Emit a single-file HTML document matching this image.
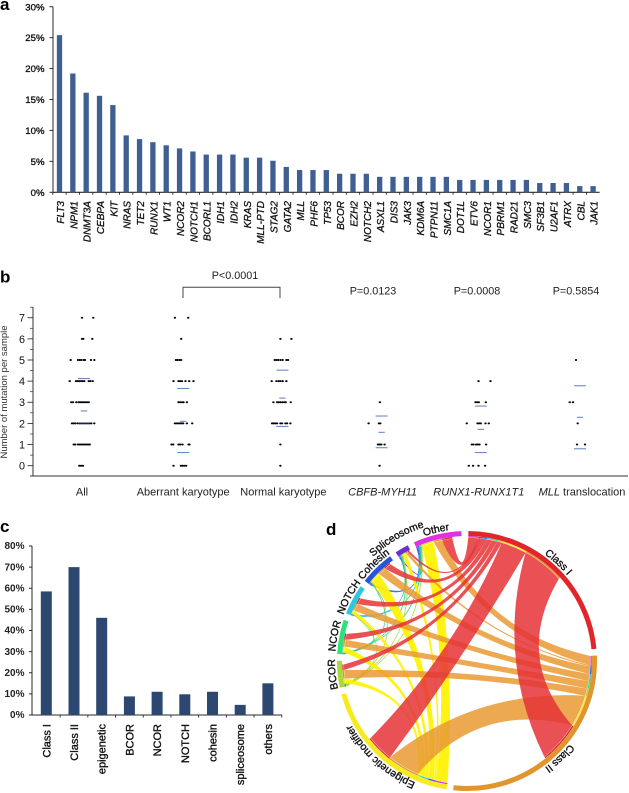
<!DOCTYPE html>
<html lang="en">
<head>
<meta charset="utf-8">
<title>Mutation frequency figure</title>
<style>
html,body{margin:0;padding:0;background:#fff;}
svg{display:block;filter:blur(0.3px);font-family:"Liberation Sans",sans-serif;}
</style>
</head>
<body>
<svg id="figure" xmlns="http://www.w3.org/2000/svg" width="629" height="793" viewBox="0 0 629 793">
  <rect width="629" height="793" fill="#fff"/>
  <g id="panelA"></g>
  <g id="panelB"></g>
  <g id="panelC"></g>
  <g id="panelD"></g>
</svg>
<script>
/* ---------- Panel a data ---------- */
const geneNames = ["FLT3","NPM1","DNMT3A","CEBPA","KIT","NRAS","TET2","RUNX1","WT1","NCOR2","NOTCH1","BCORL1","IDH1","IDH2","KRAS","MLL-PTD","STAG2","GATA2","MLL","PHF6","TP53","BCOR","EZH2","NOTCH2","ASXL1","DIS3","JAK3","KDM6A","PTPN11","SMC1A","DOT1L","ETV6","NCOR1","PBRM1","RAD21","SMC3","SF3B1","U2AF1","ATRX","CBL","JAK1"];
const geneFrequency = [25.4,19.2,16.1,15.6,14.1,9.2,8.6,8.1,7.6,7.1,6.6,6.1,6.1,6.1,5.6,5.6,5.1,4.1,3.6,3.6,3.6,3.0,3.0,3.0,2.5,2.5,2.5,2.5,2.5,2.5,2.0,2.0,2.0,2.0,2.0,2.0,1.5,1.5,1.5,1.0,1.0];
const geneAxisTicks = [0,5,10,15,20,25,30];

/* ---------- Panel b data ---------- */
const scatterGroups = ["All","Aberrant karyotype","Normal karyotype","CBFB-MYH11","RUNX1-RUNX1T1","MLL translocation"];
const scatterTicks = [0,1,2,3,4,5,6,7];
const countsAll = [7,7,6,6,6,5,5,5,5,5,5,5,5,4,4,4,4,4,4,4,4,4,4,3,3,3,3,3,3,3,3,3,3,2,2,2,2,2,2,2,2,2,2,2,2,2,1,1,1,1,1,1,1,1,1,1,0,0,0];
const jitterAll = [0,11.3,0,1.3,10.3,-11.3,-4,-2.3,-0.7,1.7,3,9,12.3,-12.3,-6,-4.3,-2.7,-1,0.7,2.3,6.7,8.3,10.7,-10.7,-9,-5.7,-3.3,-1.7,0,1.7,3.3,5,6.7,-10,-8.3,-6.7,-4.3,-2.3,-0.7,1,2.7,4.3,6,7.7,9.3,12.3,-8.3,-6.7,-4,-2.3,-0.7,1,2.7,4.3,6,7.7,-2.7,-1,1];
const countsAberrant = [7,7,6,5,5,5,5,4,4,4,4,4,4,4,3,3,3,3,3,2,2,2,2,2,2,2,2,1,1,1,1,1,1,1,0,0,0,0,0];
const jitterAberrant = [-6.3,7,0,-5.3,-3.7,-1.7,0,-7.7,-2.7,-1,0.7,4.3,8,12.3,-2.7,-1,0.7,2.3,5.7,-6.3,-4.7,-3,-1.3,0.3,2,5.7,11,-9.7,-8,-2.7,-1,1.3,7.3,8.3,-7.7,-0.3,1.3,3,5];
const countsNormal = [6,6,5,5,5,5,5,5,5,4,4,4,4,4,4,3,3,3,3,3,3,3,3,2,2,2,2,2,2,2,2,2,1,0];
const jitterNormal = [0,11,-5.7,-4,-2.3,0,2.3,6,7.7,-8.7,-4,-1.7,0,2.3,6,-7,-3.3,-1.7,0,2,3.7,5.3,10.3,-8.3,-6.7,-5,-3.3,0,1.7,5,6.7,10,0,0];
const countsCbfb = [3,2,2,2,1,1,1,1,0];
const jitterCbfb = [0.3,-11,-0.7,0.7,-1.7,0,1.7,5,0];
const countsRunx = [4,4,3,3,3,3,2,2,2,2,2,2,1,1,1,1,1,1,0,0,0,0];
const jitterRunx = [-0.3,11.7,-3.3,-1.7,0,7,-12,-1.3,0.3,2,6.7,10,-7,-5.3,-2.7,-1,0.7,7.3,-10,-5.7,-0.3,6.3];
const countsMll = [5,3,3,2,1,1];
const jitterMll = [-2,-8.3,-5,-0.3,-1,7];
const upperQuartiles = [4.12,3.65,4.52,2.35,2.82,3.78];
const medians = [2.59,2.1,3.2,1.58,1.72,2.29];
const lowerQuartiles = [2.03,0.62,1.86,0.85,0.62,0.8];
const pValues = ["P<0.0001","P=0.0123","P=0.0008","P=0.5854"];

/* ---------- Panel c data ---------- */
const pathwayNames = ["Class I","Class II","epigenetic","BCOR","NCOR","NOTCH","cohesin","spliceosome","others"];
const pathwayFrequency = [58.5,70,46,8.8,11,9.8,11,4.8,15];
const pathwayAxisTicks = [0,10,20,30,40,50,60,70,80];

/* ---------- Panel d data ---------- */
const chordSectors = ["Class I","Class II","Epigenetic modifier","BCOR","NCOR","NOTCH","Cohesin","Spliceosome","Other"];
const sectorSizes = [84,98.5,66,12,15.4,13.6,15.6,6.2,21.6];
const flowClassI = [0,19.8,12,2.2,2.5,2.5,3,0.8,4.8];
const flowClassII = [19.6,0,15.1,3.5,3.5,3.3,3.5,0.6,4.4];
const flowEpigenetic = [12.8,15.1,0,1.6,1.9,1.8,2.7,0.8,5.6];
const flowBcor = [2.6,4,2.2,0,0.2,0.3,0.4,0.3,0.3];
const flowNcor = [2.8,3.2,2.6,0.2,0,0.2,0.2,0.2,0.2];
const flowNotch = [3,3.4,1.6,0.2,0.2,0,0.2,0.2,0.2];
const flowCohesin = [3.2,3.8,5,0.2,0.2,0.2,0,0.4,0.6];
const flowSpliceosome = [0.8,1.2,1.6,0.4,0.4,0.4,0.5,0,0.4];
const flowOther = [4.8,4,5.8,0.3,0.5,0.6,0.8,0.5,0];

const SVG_NS = "http://www.w3.org/2000/svg";
function make(parent, tag, attrs, text) {
  const el = document.createElementNS(SVG_NS, tag);
  for (const k in attrs) el.setAttribute(k, attrs[k]);
  if (text !== undefined) el.textContent = text;
  parent.appendChild(el);
  return el;
}
function slug(s) { return String(s).toLowerCase().replace(/[^a-z0-9]+/g, "-").replace(/^-|-$/g, ""); }
const INK = "#2a2a2a";
const fig = document.getElementById("figure");

/* ---------- Panel letters ---------- */
[["a",0,10],["b",0,282.5],["c",0,532],["d",326,535]].forEach(function (p) {
  const el = make(fig, "text", {x:p[1], y:p[2], "font-size":17, "font-weight":"bold", fill:"#000"}, p[0]);
  
  
});

/* ---------- Panel a ---------- */
(function () {
  const g = document.getElementById("panelA");
  const xA = function (i) { return 59.5 + i * 13.34; };
  const yA = function (v) { return 192.3 - v * (185.6 / 30); };
  const yAxis = make(g, "line", {x1:53, x2:53, y1:yA(30), y2:yA(0), stroke:INK, "stroke-width":1});
  
  
  const xAxis = make(g, "line", {x1:53, x2:xA(geneNames.length - 1) + 6.5, y1:yA(0), y2:yA(0), stroke:INK, "stroke-width":1.1});
  
  
  geneAxisTicks.forEach(function (t) {
    const tick = make(g, "line", {x1:49.5, x2:53, y1:yA(t), y2:yA(t), stroke:INK, "stroke-width":1});
    
    
    const label = make(g, "text", {x:44.5, y:yA(t) + 3.6, "font-size":9.6, "text-anchor":"end", fill:"#111", stroke:"#111", "stroke-width":0.35}, t + "%");
    
    
  });
  geneNames.forEach(function (name, i) {
    const tick = make(g, "line", {x1:xA(i) - 6.67, x2:xA(i) - 6.67, y1:yA(0), y2:yA(0) + 2.5, stroke:INK, "stroke-width":0.9});
    
    
    const bar = make(g, "rect", {x:xA(i) - 2.65, y:yA(geneFrequency[i]), width:5.3, height:yA(0) - yA(geneFrequency[i]), fill:"#3f5f93"});
    
    
    const lx = xA(i) + 4.5;
    const label = make(g, "text", {x:lx, y:201, "font-size":10, "font-style":"italic", "text-anchor":"end", fill:"#111", stroke:"#111", "stroke-width":0.3, transform:"rotate(-90 " + lx + " 201)"}, name);
    
    
  });
})();

/* ---------- Panel b ---------- */
(function () {
  const g = document.getElementById("panelB");
  const xB = function (i) { return 82 + i * 99.2; };
  const yB = function (v) { return 465.7 - v * 21.14; };
  const axisStroke = "#333";
  const yAxis = make(g, "line", {x1:33, x2:33, y1:307, y2:476, stroke:axisStroke, "stroke-width":1});
  
  
  const xAxis = make(g, "line", {x1:30, x2:628, y1:476, y2:476, stroke:axisStroke, "stroke-width":1.1});
  
  
  scatterTicks.forEach(function (t) {
    const tick = make(g, "line", {x1:27.5, x2:33, y1:yB(t), y2:yB(t), stroke:axisStroke, "stroke-width":0.9});
    
    
    const minor = make(g, "line", {x1:30, x2:33, y1:yB(t + 0.5), y2:yB(t + 0.5), stroke:axisStroke, "stroke-width":0.7});
    
    
    const label = make(g, "text", {x:25, y:yB(t) + 3.9, "font-size":10.8, "text-anchor":"end", fill:"#111"}, t);
    
    
  });
  const title = make(g, "text", {x:7, y:392, "font-size":9.5, "text-anchor":"middle", fill:"#333", transform:"rotate(-90 7 392)"}, "Number of mutation per sample");
  
  

  const groupCounts = [countsAll,countsAberrant,countsNormal,countsCbfb,countsRunx,countsMll];
  const groupJitter = [jitterAll,jitterAberrant,jitterNormal,jitterCbfb,jitterRunx,jitterMll];
  groupCounts.forEach(function (counts, gi) {
    counts.forEach(function (c, k) {
      const dot = make(g, "ellipse", {cx:xB(gi) + groupJitter[gi][k], cy:yB(c), rx:1.2, ry:1, fill:"#000"});
      
      
    });
    [[upperQuartiles,6],[medians,3.2],[lowerQuartiles,6]].forEach(function (s) {
      const m = make(g, "line", {x1:xB(gi) + 2 - s[1], x2:xB(gi) + 2 + s[1], y1:yB(s[0][gi]), y2:yB(s[0][gi]), stroke:"#5b7fc0", "stroke-width":1});
      
      
    });
  });
  const labelNudge = [0,2,3,3,0,4];
  scatterGroups.forEach(function (name, i) {
    const label = make(g, "text", {x:xB(i) + labelNudge[i], y:495.5, "font-size":11, "text-anchor":"middle", fill:"#222"});
    
    
    if (i === 3 || i === 4) {
      label.setAttribute("font-style", "italic");
      label.textContent = name;
    } else if (i === 5) {
      const sp = make(label, "tspan", {"font-style":"italic"}, "MLL");
      
      
      label.appendChild(document.createTextNode(" translocation"));
    } else {
      label.textContent = name;
    }
  });
  const bracket = make(g, "path", {d:"M183 298V287.3H280V298", fill:"none", stroke:"#444", "stroke-width":1});
  
  
  const pSpots = [[235,279],[373,294.5],[477,294.5],[576,294.5]];
  pValues.forEach(function (p, i) {
    const t = make(g, "text", {x:pSpots[i][0], y:pSpots[i][1], "font-size":10.8, "text-anchor":"middle", fill:"#222"}, p);
    
    
  });
})();

/* ---------- Panel c ---------- */
(function () {
  const g = document.getElementById("panelC");
  const xC = function (i) { return 46.3 + i * 27.7; };
  const yC = function (v) { return 715 - v * (169 / 80); };
  const yAxis = make(g, "line", {x1:32, x2:32, y1:yC(80), y2:yC(0), stroke:INK, "stroke-width":1});
  
  
  const xAxis = make(g, "line", {x1:32, x2:xC(8) + 14, y1:yC(0), y2:yC(0), stroke:INK, "stroke-width":1.1});
  
  
  pathwayAxisTicks.forEach(function (t) {
    const tick = make(g, "line", {x1:29, x2:32, y1:yC(t), y2:yC(t), stroke:INK, "stroke-width":1});
    
    
    const label = make(g, "text", {x:24.5, y:yC(t) + 3.2, "font-size":10, "font-weight":"bold", "text-anchor":"end", fill:"#222"}, t + "%");
    
    
  });
  pathwayNames.forEach(function (name, i) {
    const tick = make(g, "line", {x1:xC(i) + 13.85, x2:xC(i) + 13.85, y1:yC(0), y2:yC(0) + 2.5, stroke:INK, "stroke-width":0.9});
    
    
    const bar = make(g, "rect", {x:xC(i) - 5.5, y:yC(pathwayFrequency[i]), width:11, height:yC(0) - yC(pathwayFrequency[i]), fill:"#2c4770"});
    
    
    const lx = xC(i) + 4;
    const label = make(g, "text", {x:lx, y:724, "font-size":11, "text-anchor":"end", fill:"#111", stroke:"#111", "stroke-width":0.35, transform:"rotate(-90 " + lx + " 724)"}, name);
    
    
  });
})();

/* ---------- Panel d ---------- */
(function () {
  const g = document.getElementById("panelD");
  const CX = 467, CY = 661, R = 130;
  const GAP = 3, START = 0.6;
  const ringOuter = 130, ringInner = 125, ribbonR = 123.2;
  const ringColors = ["#e0262b","#e0952e","#f7ea1e","#a8d83a","#2ee07f","#2cc8e0","#2855d8","#6a2fd0","#e030e0"];
  const ribbonColors = ["#e53337","#e99a33","#fff200","#a8d83a","#2ecf8f","#2cb8d0","#2f6fd0","#6a2fd0","#e030e0"];
  const flowMatrix = [flowClassI,flowClassII,flowEpigenetic,flowBcor,flowNcor,flowNotch,flowCohesin,flowSpliceosome,flowOther];
  const pt = function (deg, r) {
    const a = deg * Math.PI / 180;
    return [CX + r * Math.sin(a), CY - r * Math.cos(a)];
  };
  const fmt = function (p) { return p[0].toFixed(2) + " " + p[1].toFixed(2); };

  /* sector start angles from sizes */
  const starts = [];
  let cursor = START;
  sectorSizes.forEach(function (s) { starts.push(cursor); cursor += s + GAP; });

  /* slots run clockwise with partners in descending index order */
  const slots = flowMatrix.map(function (row, i) {
    const res = {};
    let a = starts[i];
    for (let j = row.length - 1; j >= 0; j--) {
      if (j === i) continue;
      res[j] = [a, a + row[j]];
      a += row[j];
    }
    return res;
  });

  const edge = function (a, b) {
    let diff = ((b - a) % 360 + 540) % 360 - 180;
    const sep = Math.abs(diff);
    const k = Math.max(0, 0.6 * (1 - sep / 180));
    const ctrl = pt(a + diff / 2, k * R);
    return "Q" + fmt(ctrl) + " " + fmt(pt(b, ribbonR));
  };
  const arcTo = function (deg) {
    return "A" + ribbonR + " " + ribbonR + " 0 0 1 " + fmt(pt(deg, ribbonR));
  };

  /* ribbons: low-index sectors painted last */
  for (let i = flowMatrix.length - 1; i >= 0; i--) {
    for (let j = flowMatrix.length - 1; j > i; j--) {
      const a = slots[i][j], b = slots[j][i];
      const d = "M" + fmt(pt(a[0], ribbonR)) + arcTo(a[1]) + edge(a[1], b[0]) + arcTo(b[1]) + edge(b[1], a[0]) + "Z";
      const thin = flowMatrix[i][j] < 1 && flowMatrix[j][i] < 1;
      const ribbon = make(g, "path", {d:d, fill:ribbonColors[i], "fill-opacity":i === 2 ? 0.92 : 0.85, stroke:thin ? ribbonColors[i] : "none", "stroke-width":thin ? 0.4 : 0});
      
      
    }
  }

  /* thin partner-coloured strip at each ribbon foot */
  flowMatrix.forEach(function (row, i) {
    row.forEach(function (v, j) {
      if (j === i || v <= 0) return;
      const s = slots[i][j], r = 124.2;
      const strip = make(g, "path", {d:"M" + fmt(pt(s[0], r)) + "A" + r + " " + r + " 0 0 1 " + fmt(pt(s[1], r)), fill:"none", stroke:ringColors[j], "stroke-width":1.3});
      
      
    });
  });

  /* outer ring and labels */
  const ringR = (ringOuter + ringInner) / 2;
  sectorSizes.forEach(function (size, i) {
    const a0 = starts[i], a1 = a0 + size;
    const ring = make(g, "path", {d:"M" + fmt(pt(a0, ringR)) + "A" + ringR + " " + ringR + " 0 0 1 " + fmt(pt(a1, ringR)), fill:"none", stroke:ringColors[i], "stroke-width":ringOuter - ringInner});
    
    

    const mid = a0 + size / 2;
    const lr = chordSectors[i] === "Spliceosome" ? 140.5 : 132;
    const pid = "label-arc-" + i;
    const guide = make(g, "path", {id:pid, fill:"none", d:"M" + fmt(pt(mid - 180, lr)) + "A" + lr + " " + lr + " 0 0 1 " + fmt(pt(mid, lr)) + "A" + lr + " " + lr + " 0 0 1 " + fmt(pt(mid + 179.9, lr))});
    
    
    const text = make(g, "text", {"font-size":10.4, fill:"#111", stroke:"#111", "stroke-width":0.35, "text-anchor":"middle"});
    
    
    const tp = make(text, "textPath", {href:"#" + pid, startOffset:"50%"}, chordSectors[i]);
    
    
  });
})();
</script>
</body>
</html>
